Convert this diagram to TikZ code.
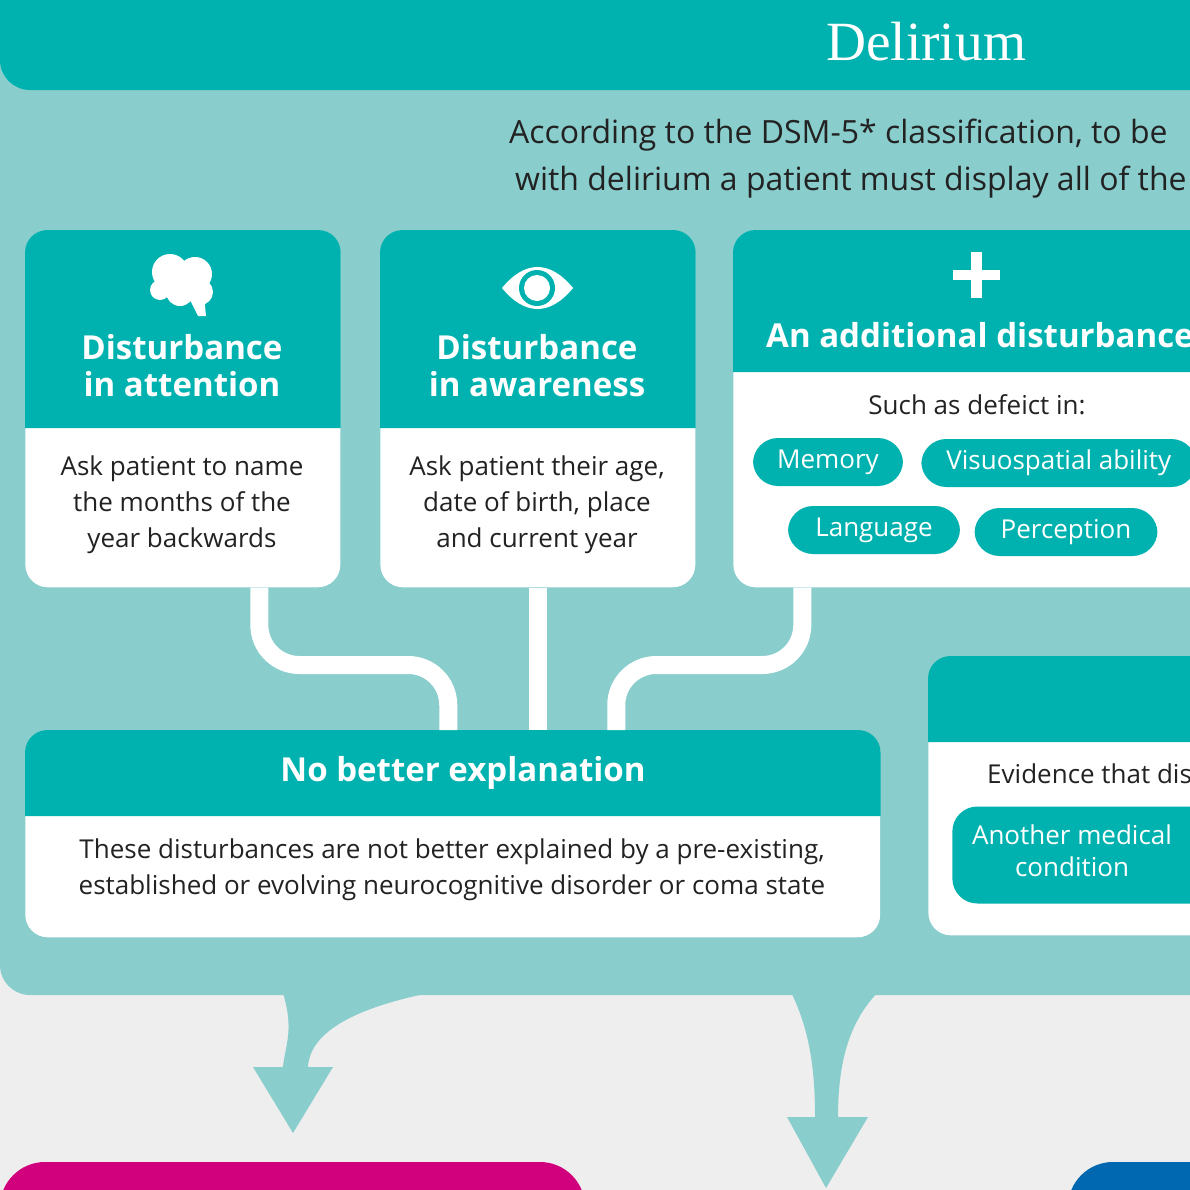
\documentclass[tikz,border=0pt]{standalone}
\usepackage{fontspec}
\setmainfont{Open Sans}
\newfontfamily\titlefont{Liberation Serif}
\usetikzlibrary{positioning,calc}
\definecolor{bmjteal}{HTML}{00B2AF}
\definecolor{paleteal}{HTML}{89CDCC}
\definecolor{greybg}{HTML}{EEEEEE}
\definecolor{bmjpink}{HTML}{D1007D}
\definecolor{bmjblue}{HTML}{0067B1}
\definecolor{inkgrey}{HTML}{222222}
\begin{document}
\begin{tikzpicture}[x=0.02cm,y=-0.02cm]
 \tikzset{
 	card/.style={rectangle,fill=white,rounded corners=0.45cm,inner sep=0},
 	head text/.style={text=white,font=\fontsize{18.8}{21}\selectfont\bfseries,align=center},
 	body text/.style={text=inkgrey,font=\fontsize{14.8}{20.5}\selectfont,align=center},
 	pill/.style={rectangle,fill=bmjteal,text=white,rounded corners=0.5cm,font=\fontsize{14.8}{20}\selectfont,inner sep=0,minimum height=0.96cm},
 	conn/.style={draw=white,line width=0.36cm,rounded corners=0.8cm},
 	drop/.style={fill=paleteal}
 }
 \clip (0,0) rectangle (1190,1190);
 \fill[greybg] (0,0) rectangle (1190,1190);
 % main panel
 \fill[paleteal,rounded corners=0.6cm] (0,-40) rectangle (1250,995);
 \fill[bmjteal,rounded corners=0.6cm] (0,-40) rectangle (1250,90);
 \node[anchor=west,text=white,font=\titlefont\fontsize{31.5}{32}\selectfont] (title) at (820,42) {Delirium};
 \node[anchor=west,text=inkgrey,font=\fontsize{18.2}{26}\selectfont] (intro1) at (503,135) {According to the DSM-5* classification, to be};
 \node[anchor=west,text=inkgrey,font=\fontsize{18.2}{26}\selectfont] (intro2) at (509,182) {with delirium a patient must display all of the};

 % drops to the lower row
 \path[drop] (282,990) .. controls (295,1030) and (285,1045) .. (283,1067) -- (253,1067) -- (293,1133) -- (333,1067) -- (308,1067)
   .. controls (310,1030) and (360,1005) .. (445,990) -- cycle;
 \path[drop] (790,990) .. controls (810,1030) and (815,1070) .. (815,1117) -- (787,1117) -- (826,1188) -- (868,1117) -- (838,1117)
   .. controls (838,1060) and (850,1020) .. (880,990) -- cycle;
 \fill[bmjpink,rounded corners=0.9cm] (0,1162) rectangle (585,1260);
 \fill[bmjblue,rounded corners=0.9cm] (1068,1162) rectangle (1300,1260);

 % cards
 \node[card,minimum width=6.3cm,minimum height=7.14cm,anchor=north west] (att) at (25,230) {};
 \node[card,minimum width=6.3cm,minimum height=7.14cm,anchor=north west] (awa) at (380,230) {};
 \node[card,minimum width=10cm,minimum height=7.14cm,anchor=north west] (add) at (733,230) {};
 \node[card,minimum width=17.1cm,minimum height=4.14cm,anchor=north west] (nbe) at (25,730) {};
 \node[card,minimum width=10cm,minimum height=5.58cm,anchor=north west] (med) at (928,656) {};
 \foreach \c/\y in {att/428,awa/428,add/372,nbe/816,med/742}
   \fill[bmjteal] (\c.west |- 0,\y) [rounded corners=0.45cm] -- (\c.north west) -- (\c.north east) [sharp corners] -- (\c.east |- 0,\y) -- cycle;

 % connectors
 \coordinate (j1) at (350,665);
 \coordinate (j3) at (700,665);
 \draw[conn] ($(att.south)+(76.5,0)$) |- (j1) -| ($(nbe.north)+(-4.5,0)$);
 \draw[conn] (awa.south) -- (awa.south |- nbe.north);
 \draw[conn] ($(add.south)+(-181,0)$) |- (j3) -| ($(nbe.north)+(163.5,0)$);

 % card 1
 \fill[white] (170,272) circle (18) (195,274) circle (17) (160,290) circle (10) (200,292) circle (13) (180,292) circle (14);
 \fill[white] (188,296) -- (204,296) -- (206,316) -- (198,316) -- cycle;
 \node[head text] (atth) at (182,366) {Disturbance\\in attention};
 \node[body text] (attb) at (182,505) {Ask patient to name\\the months of the\\year backwards};
 % card 2
 \fill[white] (502,288) .. controls (525,260) and (550,260) .. (573,288) .. controls (550,316) and (525,316) .. cycle;
 \fill[bmjteal] (537,288) circle (18);
 \fill[white] (537,288) circle (13);
 \node[head text] (awah) at (537,366) {Disturbance\\in awareness};
 \node[body text] (awab) at (537,505) {Ask patient their age,\\date of birth, place\\and current year};
 % card 3
 \fill[white] (953,270) rectangle (1000,280);
 \fill[white] (971,252) rectangle (982,298);
 \node[head text,anchor=west] (addh) at (760,335) {An additional disturbance};
 \node[body text] (addb) at (977,405) {Such as defeict in:};
 \node[pill,minimum width=3cm] (mem) at (828,462) {Memory};
 \node[pill,minimum width=5.5cm,anchor=west] (vis) at (921,463) {Visuospatial ability};
 \node[pill,minimum width=3.44cm] (lang) at (874,530) {Language};
 \node[pill,minimum width=3.66cm] (perc) at (1066,532) {Perception};
 % card 4
 \node[head text] (nbeh) at (463,773) {No better explanation};
 \node[body text] (nbeb) at (452,870) {These disturbances are not better explained by a pre-existing,\\established or evolving neurocognitive disorder or coma state};
 % card 5
 \node[body text,anchor=west] (medb) at (981,774) {Evidence that dis};
 \node[pill,minimum width=5.4cm,minimum height=1.94cm,anchor=west] (oth) at (952,855) {};
 \node[text=white,font=\fontsize{14.8}{18}\selectfont,align=center] (othtext) at (1072,851) {Another medical\\condition};
\end{tikzpicture}
\end{document}
